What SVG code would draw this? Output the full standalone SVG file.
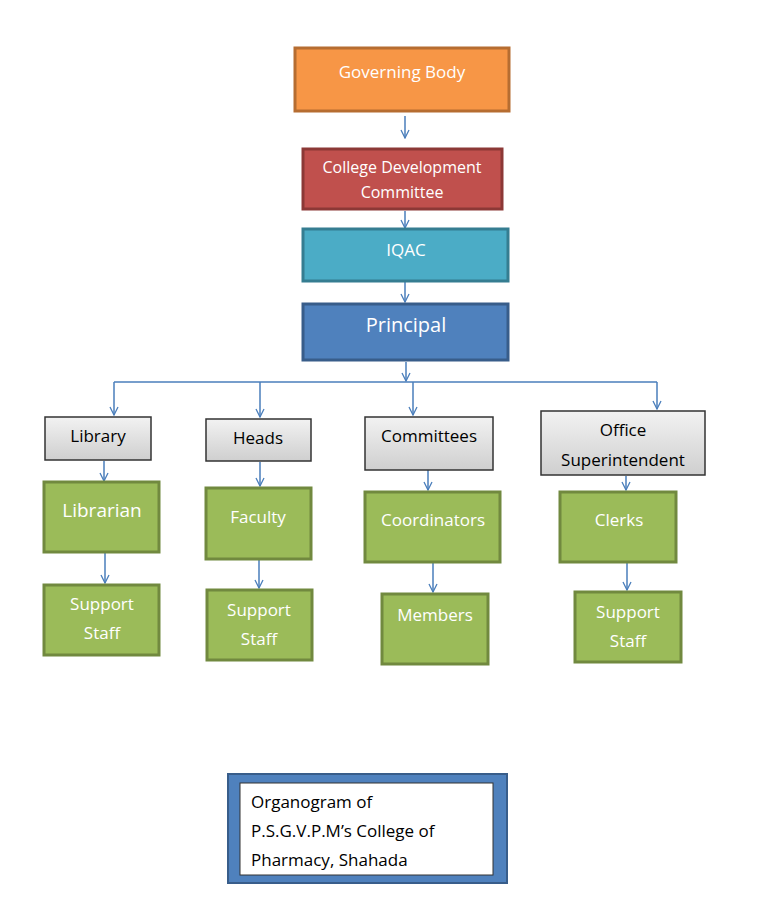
<svg xmlns="http://www.w3.org/2000/svg" width="768" height="913" viewBox="0 0 768 913">
<defs>
<marker id="a" viewBox="0 0 10 10" refX="9" refY="5" markerWidth="10" markerHeight="10" markerUnits="userSpaceOnUse" orient="auto"><path d="M1,1 L9,5 L1,9" fill="none" stroke="#4A7EBB" stroke-width="1.3"/></marker>
<linearGradient id="g" x1="0" y1="0" x2="0" y2="1"><stop offset="0" stop-color="#f2f2f2"/><stop offset="1" stop-color="#cfcfcf"/></linearGradient>
</defs>
<style>
text{font-family:"Open Sans","Liberation Sans",sans-serif;text-anchor:middle;}
.w{fill:#fff;font-size:17px}
.k{fill:#000;font-size:17px}
.gr{fill:#9BBB59;stroke:#71893F;stroke-width:3}
.gy{fill:url(#g);stroke:#333;stroke-width:1.5}
#c line,#c path{stroke:#4A7EBB;stroke-width:1.5;fill:none}
</style>
<rect width="768" height="913" fill="#fff"/>
<g id="c">
<line x1="405" y1="116" x2="405" y2="138" marker-end="url(#a)"/>
<line x1="405" y1="211" x2="405" y2="228" marker-end="url(#a)"/>
<line x1="405" y1="282" x2="405" y2="302" marker-end="url(#a)"/>
<line x1="406" y1="362" x2="406" y2="381" marker-end="url(#a)"/>
<path d="M114,382 H657"/>
<line x1="114" y1="382" x2="114" y2="415" marker-end="url(#a)"/>
<line x1="260" y1="382" x2="260" y2="417" marker-end="url(#a)"/>
<line x1="413" y1="382" x2="413" y2="415" marker-end="url(#a)"/>
<line x1="657" y1="382" x2="657" y2="409" marker-end="url(#a)"/>
<line x1="104" y1="461" x2="104" y2="481" marker-end="url(#a)"/>
<line x1="260" y1="462" x2="260" y2="486" marker-end="url(#a)"/>
<line x1="428" y1="470" x2="428" y2="490" marker-end="url(#a)"/>
<line x1="626" y1="476" x2="626" y2="490" marker-end="url(#a)"/>
<line x1="105" y1="553" x2="105" y2="583" marker-end="url(#a)"/>
<line x1="259" y1="560" x2="259" y2="588" marker-end="url(#a)"/>
<line x1="433" y1="563" x2="433" y2="592" marker-end="url(#a)"/>
<line x1="627" y1="563" x2="627" y2="590" marker-end="url(#a)"/>
</g>
<g id="governing"><rect x="295" y="48" width="214" height="63" fill="#F79646" stroke="#B66D31" stroke-width="3"/><text class="w" x="402" y="78">Governing Body</text></g>
<g id="cdc"><rect x="303" y="149" width="199" height="60" fill="#C0504D" stroke="#8C3836" stroke-width="3"/><text class="w" x="402" y="173" style="font-size:16px">College Development</text><text class="w" x="402" y="198" style="font-size:16px">Committee</text></g>
<g id="iqac"><rect x="303" y="229" width="205" height="52" fill="#4BACC6" stroke="#357D91" stroke-width="3"/><text class="w" x="406" y="256">IQAC</text></g>
<g id="principal"><rect x="303" y="304" width="205" height="56" fill="#4F81BD" stroke="#385D8A" stroke-width="3"/><text class="w" x="406" y="332" style="font-size:20px">Principal</text></g>
<g id="library"><rect class="gy" x="45" y="417" width="106" height="43"/><text class="k" x="98" y="442">Library</text></g>
<g id="heads"><rect class="gy" x="206" y="419" width="105" height="42"/><text class="k" x="258" y="444">Heads</text></g>
<g id="committees"><rect class="gy" x="365" y="417" width="128" height="53"/><text class="k" x="429" y="442">Committees</text></g>
<g id="office"><rect class="gy" x="541" y="411" width="164" height="64"/><text class="k" x="623" y="436">Office</text><text class="k" x="623" y="466">Superintendent</text></g>
<g id="librarian"><rect class="gr" x="44" y="482" width="115" height="70"/><text class="w" x="102" y="517" style="font-size:19px">Librarian</text></g>
<g id="faculty"><rect class="gr" x="206" y="488" width="105" height="71"/><text class="w" x="258" y="523">Faculty</text></g>
<g id="coordinators"><rect class="gr" x="365" y="492" width="135" height="70"/><text class="w" x="433" y="526">Coordinators</text></g>
<g id="clerks"><rect class="gr" x="560" y="492" width="116" height="70"/><text class="w" x="619" y="526">Clerks</text></g>
<g id="ss1"><rect class="gr" x="44" y="585" width="115" height="70"/><text class="w" x="102" y="610">Support</text><text class="w" x="102" y="639">Staff</text></g>
<g id="ss2"><rect class="gr" x="207" y="590" width="105" height="70"/><text class="w" x="259" y="616">Support</text><text class="w" x="259" y="645">Staff</text></g>
<g id="members"><rect class="gr" x="382" y="594" width="106" height="70"/><text class="w" x="435" y="621">Members</text></g>
<g id="ss4"><rect class="gr" x="575" y="592" width="106" height="70"/><text class="w" x="628" y="618">Support</text><text class="w" x="628" y="647">Staff</text></g>
<g id="caption"><rect x="228" y="774" width="279" height="109" fill="#4F81BD" stroke="#385D8A" stroke-width="2"/><rect x="240" y="783" width="253" height="92" fill="#fff" stroke="#333" stroke-width="1"/>
<text x="251" y="808" style="text-anchor:start;font-size:17px;fill:#000">Organogram of</text>
<text x="251" y="837" style="text-anchor:start;font-size:17px;fill:#000">P.S.G.V.P.M’s College of</text>
<text x="251" y="866" style="text-anchor:start;font-size:17px;fill:#000">Pharmacy, Shahada</text></g>
</svg>
